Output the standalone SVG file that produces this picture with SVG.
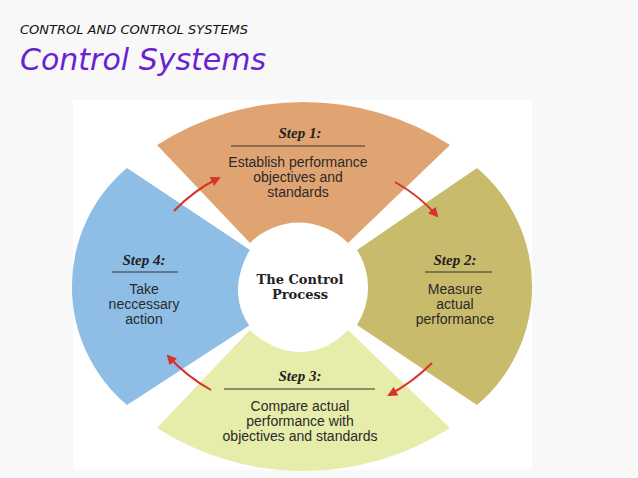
<svg xmlns="http://www.w3.org/2000/svg" width="638" height="478" viewBox="0 0 638 478">
<style>
.st{font-family:"Liberation Serif","DejaVu Serif",serif;font-weight:bold;font-style:italic;font-size:15px;fill:#222;text-anchor:middle}
.bd{font-family:"Liberation Sans",Arial,sans-serif;font-size:14px;fill:#2a2a2a;text-anchor:middle}
.ul{stroke:#333;stroke-width:1}
.ar{fill:none;stroke:#d8322c;stroke-width:2}
</style>
<defs><marker id="ah" viewBox="0 0 10 10" refX="8" refY="5" markerWidth="5" markerHeight="5" orient="auto"><path d="M0,0 L10,5 L0,10 Z" fill="#d8322c"/></marker></defs>
<rect width="638" height="478" fill="#f8f8f8"/>
<text x="20" y="34" font-family="'DejaVu Sans',sans-serif" font-style="italic" font-size="13" fill="#111">CONTROL AND CONTROL SYSTEMS</text>
<text x="20" y="70" font-family="'DejaVu Sans',sans-serif" font-style="italic" font-size="30" fill="#6a22d0">Control Systems</text>
<rect x="73" y="100" width="459" height="370" fill="#fff"/>
<g id="step1"><path d="M250,243 L157,145 A271,271 0 0 1 450,145 L348,243 A69,69 0 0 0 250,243 Z" fill="#e0a472"/>
<text class="st" x="300" y="138">Step 1:</text><line class="ul" x1="231" y1="146" x2="365" y2="146"/>
<text class="bd" x="298" y="167">Establish performance</text><text class="bd" x="298" y="182">objectives and</text><text class="bd" x="298" y="197">standards</text></g>
<g id="step2"><path d="M357,250 L477,168 A155,155 0 0 1 477,405 L357,325 A69,69 0 0 0 357,250 Z" fill="#c9bb6c"/>
<text class="st" x="455" y="265">Step 2:</text><line class="ul" x1="425" y1="272" x2="492" y2="272"/>
<text class="bd" x="455" y="294">Measure</text><text class="bd" x="455" y="309">actual</text><text class="bd" x="455" y="324">performance</text></g>
<g id="step3"><path d="M348,330 L450,428 A271,271 0 0 1 157,428 L250,330 A69,69 0 0 0 348,330 Z" fill="#e6eca9"/>
<text class="st" x="300" y="381">Step 3:</text><line class="ul" x1="224" y1="389" x2="375" y2="389"/>
<text class="bd" x="300" y="411">Compare actual</text><text class="bd" x="300" y="426">performance with</text><text class="bd" x="300" y="441">objectives and standards</text></g>
<g id="step4"><path d="M250,325 L127,405 A155,155 0 0 1 127,168 L250,250 A69,69 0 0 0 250,325 Z" fill="#8ebde6"/>
<text class="st" x="144" y="265">Step 4:</text><line class="ul" x1="112" y1="272" x2="178" y2="272"/>
<text class="bd" x="144" y="294">Take</text><text class="bd" x="144" y="309">neccessary</text><text class="bd" x="144" y="324">action</text></g>
<g id="center"><circle cx="300" cy="290" r="62" fill="#fff"/>
<text x="300" y="284" font-family="'DejaVu Serif',serif" font-weight="bold" font-size="13" fill="#222" text-anchor="middle">The Control</text>
<text x="300" y="299" font-family="'DejaVu Serif',serif" font-weight="bold" font-size="13" fill="#222" text-anchor="middle">Process</text></g>
<g id="connectors">
<path class="ar" d="M174,211 Q194,190 219,178" marker-end="url(#ah)"/>
<path class="ar" d="M395,182 Q420,196 437,216" marker-end="url(#ah)"/>
<path class="ar" d="M432,363 Q413,382 389,395" marker-end="url(#ah)"/>
<path class="ar" d="M211,390 Q186,376 168,356" marker-end="url(#ah)"/>
</g>
</svg>
